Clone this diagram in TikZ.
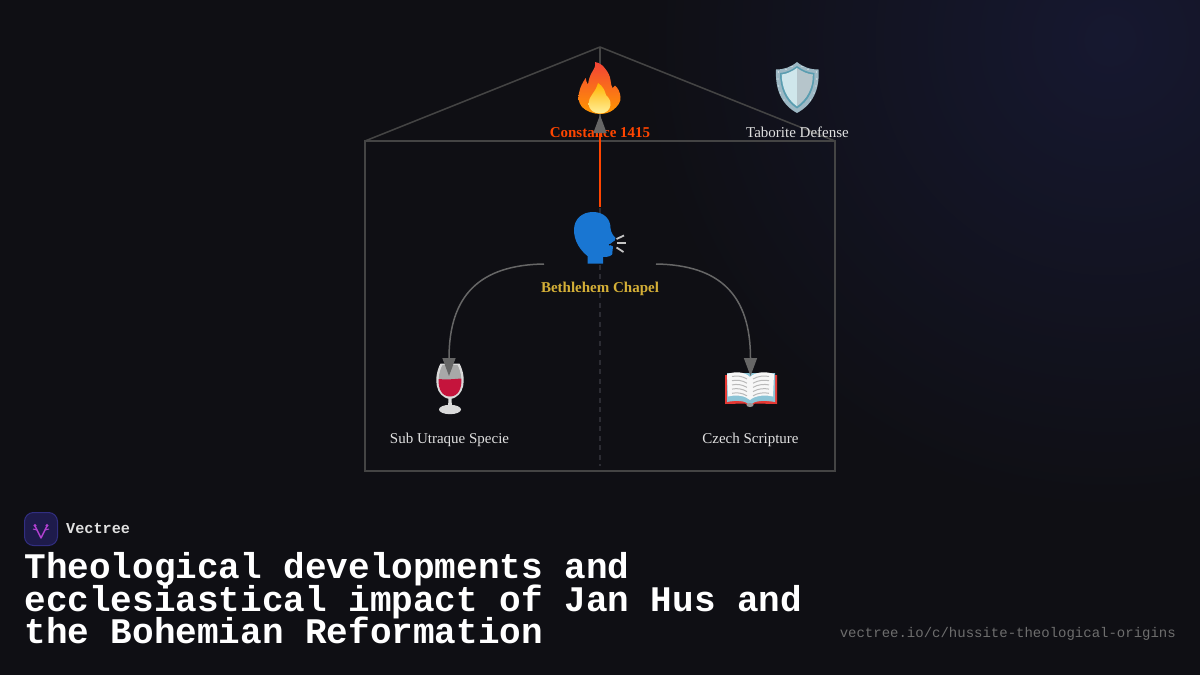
\documentclass[tikz,border=0pt]{standalone}
\usepackage{fontspec}
\setmainfont{Liberation Serif}
\newfontfamily\monofam{Liberation Mono}
\usetikzlibrary{arrows.meta}
\definecolor{bgbase}{HTML}{0F0F14}
\definecolor{bgglow}{HTML}{161830}
\definecolor{housecol}{HTML}{444444}
\definecolor{dashcol}{HTML}{2C2C33}
\definecolor{edgecol}{HTML}{666666}
\definecolor{firecol}{HTML}{FF4500}
\definecolor{goldcol}{HTML}{D4AF37}
\definecolor{labcol}{HTML}{E0E0E0}
\definecolor{urlcol}{HTML}{6E6E6E}
\definecolor{headblue}{HTML}{1976D2}
\definecolor{shieldrim}{HTML}{9DB8C4}
\definecolor{shieldband}{HTML}{5A9DB0}
\definecolor{shieldL}{HTML}{CFE6EB}
\definecolor{shieldR}{HTML}{B6C5CB}
\definecolor{winered}{HTML}{C5143C}
\definecolor{glass}{HTML}{DADADA}
\definecolor{glassin}{HTML}{A8A8A8}
\definecolor{flameA}{HTML}{F44336}
\definecolor{flameB}{HTML}{FF7A10}
\definecolor{flameC}{HTML}{FF9800}
\definecolor{innerA}{HTML}{FFB300}
\definecolor{innerB}{HTML}{FFF09A}
\definecolor{bookred}{HTML}{E53935}
\definecolor{bookband}{HTML}{8CC4D6}
\definecolor{logobg}{HTML}{1E1B4B}
\definecolor{logoedge}{HTML}{312E81}
\definecolor{logomark}{HTML}{B040D0}
\newcommand{\titlefont}{\monofam\bfseries\fontsize{36}{32.4}\selectfont\setlength{\lineskiplimit}{-100pt}}
\tikzset{
  house/.style={draw=housecol,line width=1.5pt},
  slot/.style={inner sep=0pt,outer sep=0pt},
  lab/.style={anchor=base,inner sep=0pt,font=\fontsize{15}{18}\selectfont,text=labcol},
  boldlab/.style={lab,font=\fontsize{15}{18}\selectfont\bfseries},
  link/.style={draw=edgecol,line width=1.5pt,
    -{Triangle[length=18pt,width=13pt,color=edgecol]}},
  firelink/.style={link,draw=firecol},
  ray/.style={draw=glass!90!black,line width=1.8pt},
}
\begin{document}
\begin{tikzpicture}[x=1pt,y=-1pt]
\useasboundingbox (0,0) rectangle (1200,675);
\fill[bgbase] (0,0) rectangle (1200,675);
\begin{scope}
  \clip (0,0) rectangle (1200,675);
  \shade[inner color=bgglow,outer color=bgbase] (1110,40) circle[radius=470pt];
\end{scope}

% house frame
\draw[dashcol,line width=1.2pt,dash pattern=on 5pt off 4.5pt] (600,141) -- (600,466);
\draw[house] (365,141) rectangle (835,471);
\draw[house,line join=round] (365,141) -- (600,47) -- (835,141);
\draw[house] (600,47) -- (600,141);

% emoji slots
\node[slot,minimum width=56pt,minimum height=54pt] (fire) at (600,88) {};
\node[slot,minimum width=56pt,minimum height=54pt] (shield) at (797,88) {};
\node[slot,minimum width=112pt,minimum height=62pt] (head) at (600,238) {};
\node[slot,minimum width=50pt,minimum height=56pt] (wine) at (449,404) {};
\node[slot,minimum width=60pt,minimum height=56pt] (book) at (750.5,404) {};
\coordinate (headL) at (544,264);
\coordinate (headR) at (656,264);

% flame
\shade[top color=flameA,middle color=flameB,bottom color=flameC]
  (600,114) .. controls (593,114) and (586,111) .. (582,107)
  .. controls (578,102) and (578,97) .. (579,93)
  .. controls (580,87) and (583,82) .. (585.7,78)
  .. controls (586,80.5) and (586.5,82.5) .. (588,84.5)
  .. controls (588.5,80) and (590,76) .. (591.5,73)
  .. controls (594,69) and (596,66) .. (595,62)
  .. controls (600,63) and (603,65.5) .. (605,68.5)
  .. controls (608,72) and (610,76) .. (610.5,80)
  .. controls (611,83) and (611,86) .. (612.5,88)
  .. controls (613.5,87.5) and (614.5,87) .. (615,85.5)
  .. controls (618,88) and (620,92) .. (620.5,97)
  .. controls (621,102) and (618,106) .. (613,110)
  .. controls (609,113) and (604,114) .. (600,114) -- cycle;
\shade[top color=innerA,bottom color=innerB]
  (600,113.5) .. controls (594,113.5) and (589,110) .. (588.5,104)
  .. controls (588,97) and (596,92) .. (598,83)
  .. controls (603,86) and (605,91) .. (606,95)
  .. controls (609,98) and (611,101) .. (610.5,105)
  .. controls (610,110) and (606,113.5) .. (600,113.5) -- cycle;

% shield
\fill[shieldrim] (797,62) .. controls (791,67) and (784,69.5) .. (776,69.5)
  .. controls (775,90) and (782,105) .. (797,113)
  .. controls (812,105) and (820,90) .. (818.5,69.5)
  .. controls (810,69.5) and (803,67) .. (797,62) -- cycle;
\fill[shieldband] (797,66) .. controls (792,70) and (786,72.5) .. (780,73)
  .. controls (780,88) and (785,101) .. (797,108.5)
  .. controls (809,101) and (815,88) .. (814.5,73)
  .. controls (808,72.5) and (802,70) .. (797,66) -- cycle;
\fill[shieldL] (797,68) .. controls (792,71.5) and (787,74) .. (781.7,74.5)
  .. controls (782,88) and (787,99) .. (797,106.3) -- cycle;
\fill[shieldR] (797,68) .. controls (802,71.5) and (807,74) .. (812.8,74.5)
  .. controls (813,88) and (807,99) .. (797,106.3) -- cycle;
\foreach \dx/\dy in {778.3/72,778/79,778.7/86,780.5/93,784/100,816.5/72,816.8/79,816/86,814/93,810.5/100,786/69.5,792/66.5,808/69.5,802/66.5}
  \fill[white!85!shieldrim] (\dx,\dy) circle[radius=0.7pt];

% speaking head
\fill[headblue] (587.5,263.5) -- (587.5,256)
  .. controls (580,250) and (574,241) .. (574,230)
  .. controls (574,219) and (582,212) .. (593,212)
  .. controls (604,212) and (610.5,219) .. (610.5,228)
  .. controls (611,232) and (612,233) .. (613,235)
  -- (615.5,238) .. controls (616,240) and (614,241.5) .. (612.5,242)
  -- (609.5,244.5) -- (613,246.5) -- (612.5,251)
  .. controls (613,254) and (612,255.5) .. (610,256)
  .. controls (608,257) and (605,257) .. (603,257)
  -- (603,263.5) -- cycle;
\draw[bgbase,line width=1.1pt] (609,244.8) -- (615,244.2);
\draw[ray] (616.5,239) -- (624,235.5);
\draw[ray] (617,243.2) -- (625.5,243.2);
\draw[ray] (616.5,247.5) -- (623.5,252);

% wine glass
\fill[glass] (440.5,363.5) .. controls (433,378) and (435,397) .. (450,399)
  .. controls (465,397) and (467,378) .. (459.5,363.5) -- cycle;
\fill[glassin] (442.5,365) -- (457.5,365) .. controls (461,372) and (461.5,377) .. (461,381)
  -- (439,381) .. controls (438.5,377) and (439,372) .. (442.5,365) -- cycle;
\fill[winered] (438.6,379) .. controls (446,380) and (454,379) .. (461.4,378.5)
  .. controls (462,389) and (458,396.5) .. (450,396.5) .. controls (442,396.5) and (438,389) .. (438.6,379) -- cycle;
\fill[glass] (448.5,398) -- (451.5,398) -- (452,408) -- (448,408) -- cycle;
\fill[glass] (450,409.5) ellipse[x radius=11pt,y radius=4.7pt];

% open book
\fill[bookred] (725,375) -- (725,404) -- (745,403.5) -- (750,407) -- (755,403.5) -- (777,404) -- (777,375) -- cycle;
\fill[bookband] (727,373) -- (727,402) .. controls (737,400) and (745,400.5) .. (750,405)
  .. controls (755,400.5) and (763,400) .. (775,402) -- (775,373) -- cycle;
\fill[white!94!gray] (727,374) .. controls (736,371) and (745,372) .. (750,377)
  -- (750,400) .. controls (745,395.5) and (736,394.5) .. (728,396.5) -- cycle;
\fill[white!94!gray] (774,374) .. controls (765,371) and (755,372) .. (750,377)
  -- (750,400) .. controls (755,395.5) and (765,394.5) .. (773,396.5) -- cycle;
\foreach \k in {0,1,2,3,4}{
  \draw[gray!55,line width=1pt] (732,{376.5+\k*4.2}) .. controls (737,{375.5+\k*4.2}) and (742,{376+\k*4.2}) .. (747,{379+\k*4.2});
  \draw[gray!55,line width=1pt] (769,{376.5+\k*4.2}) .. controls (764,{375.5+\k*4.2}) and (758,{376+\k*4.2}) .. (753,{379+\k*4.2});
}
\fill[gray!80] (750,405) ellipse[x radius=3.5pt,y radius=2pt];

% labels
\node[boldlab,text=firecol] (l1) at (600,137) {Constance 1415};
\node[lab] (l2) at (797.5,137) {Taborite Defense};
\node[boldlab,text=goldcol] (l3) at (600,292) {Bethlehem Chapel};
\node[lab] (l4) at (449.5,443) {Sub Utraque Specie};
\node[lab] (l5) at (750.5,443) {Czech Scripture};

% connectors
\draw[firelink] (head.north) -- (fire.south);
\draw[link] (headL) .. controls (480,265) and (449,295) .. (wine.north);
\draw[link] (headR) .. controls (720,265) and (750.5,295) .. (book.north);

% logo
\node[slot,draw=logoedge,fill=logobg,rounded corners=9pt,line width=1pt,minimum size=33pt] (logo) at (41,529) {};
\draw[logomark,line width=1.4pt,line join=round,line cap=round]
  (35,526) -- (37,530) -- (41,538) -- (45,530) -- (47,526);
\draw[logomark,line width=1pt] (33,529) -- (37,530) (49,529) -- (45,530);
\fill[logomark] (35,525.5) circle[radius=1.6pt] (47,525.5) circle[radius=1.6pt];

\node[anchor=base west,inner sep=0pt,text=labcol,font=\monofam\bfseries\fontsize{15.2}{18}\selectfont] (brand) at (66,533) {Vectree};
\node[anchor=north west,inner sep=0pt,text=white,align=left,font=\titlefont] (title) at (24.3,552.4)
  {Theological developments and\\ecclesiastical impact of Jan Hus and\\the Bohemian Reformation};
\node[anchor=base east,inner sep=0pt,text=urlcol,font=\monofam\fontsize{14}{16}\selectfont] (url) at (1176,637) {vectree.io/c/hussite-theological-origins};
\end{tikzpicture}
\end{document}
